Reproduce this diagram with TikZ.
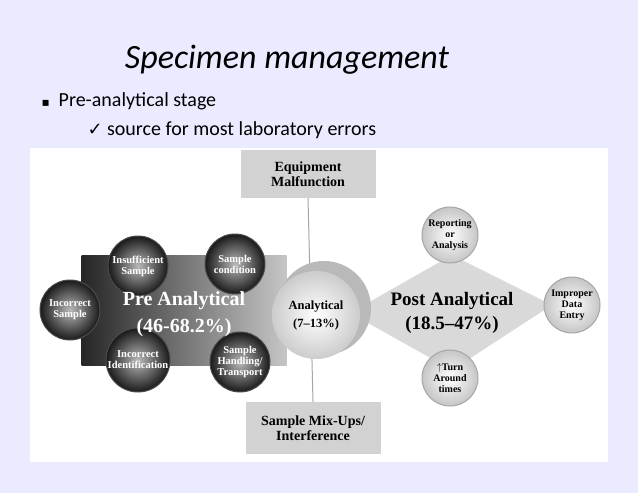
\documentclass[tikz,border=0pt]{standalone}
\usepackage{fontspec}
\setmainfont{Liberation Serif}
\newfontfamily\slidefont{Carlito}
\newfontfamily\symfont{DejaVu Sans}
\begin{document}
\begin{tikzpicture}[x=1pt,y=-1pt,
  dball/.style={circle,draw=black!70,line width=1pt,inner color=gray!55,outer color=black!90,text=white,font=\bfseries\fontsize{10.5}{11}\selectfont,align=center,minimum size=60pt,inner sep=0pt},
  lball/.style={circle,draw=gray!70,line width=1pt,inner color=white,outer color=gray!45,font=\bfseries\fontsize{10}{11}\selectfont,align=center,minimum size=56pt,inner sep=0pt},
  gbox/.style={draw=none,fill=gray!35,font=\bfseries\fontsize{14}{15}\selectfont,align=center,inner sep=0pt}]
\useasboundingbox (0,0) rectangle (638,493);
\fill[blue!8] (0,0) rectangle (638,493);
\fill[white] (30,148) rectangle (608,462);
\node[font=\slidefont\itshape\fontsize{34}{36}\selectfont] (title) at (287,60) {Specimen management};
\node[anchor=west,font=\slidefont\fontsize{20}{22}\selectfont] (b1) at (38,101) {{\symfont\fontsize{12}{12}\selectfont ▪}\ \ Pre-analytical stage};
\node[anchor=west,font=\slidefont\fontsize{20}{22}\selectfont] (b2) at (84,130) {{\symfont\fontsize{18}{18}\selectfont ✓}\ source for most laboratory errors};
% boxes
\node[gbox,minimum width=135pt,minimum height=48pt] (eq) at (308,174) {Equipment\\Malfunction};
\node[gbox,minimum width=135pt,minimum height=52pt] (mix) at (313,428) {Sample Mix-Ups/\\Interference};
\draw[gray!70,line width=1pt] (eq.south) -- (mix.north);
% pre analytical
\node[draw=none,left color=black!85,right color=gray!45,minimum width=205pt,minimum height=110pt,inner sep=0pt] (pre) at (184,310) {};
\node[dball] (ins) at (138,266) {Insufficient\\Sample};
\node[dball] (cond) at (235,264) {Sample\\condition};
\node[dball] (incs) at (70,310) {Incorrect\\Sample};
\node[dball,minimum size=64pt] (inci) at (138,360) {Incorrect\\Identification};
\node[dball] (hand) at (240,362) {Sample\\Handling/\\Transport};
\node[text=white,font=\bfseries\fontsize{20}{27}\selectfont,align=center] (pret) at (184,314) {Pre Analytical\\(46-68.2\%)};
% post analytical diamond
\coordinate (dl) at (350,313);
\coordinate (dt) at (452,255);
\coordinate (dr) at (552,305);
\coordinate (db) at (452,370);
\fill[gray!30] (dl) -- (dt) -- (dr) -- (db) -- cycle;
\node[font=\bfseries\fontsize{19}{24}\selectfont,align=center] (post) at (452,313) {Post Analytical\\(18.5--47\%)};
\node[lball] (rep) at (450,235) {Reporting\\or\\Analysis};
\node[lball] (imp) at (572,305) {Improper\\Data\\Entry};
\node[lball] (tat) at (450,378) {$\uparrow$Turn\\Around\\times};
% analytical
\node[circle,fill=gray!55,minimum size=94pt] (ashadow) at (324,308) {};
\node[circle,inner color=white,outer color=gray!40,minimum size=88pt,inner sep=0pt,font=\bfseries\fontsize{12.5}{18}\selectfont,align=center] (ana) at (316,315) {Analytical\\(7--13\%)};
\end{tikzpicture}
\end{document}
